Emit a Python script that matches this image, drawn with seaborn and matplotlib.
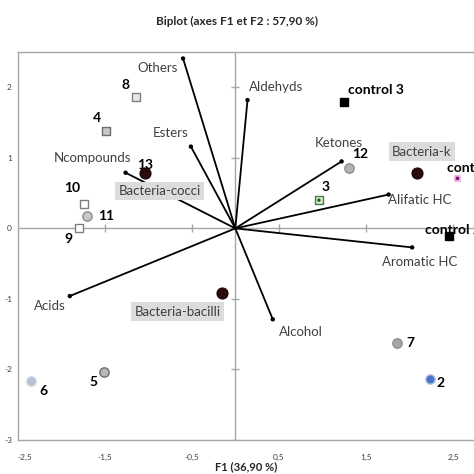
import matplotlib
matplotlib.use("Agg")
import matplotlib.pyplot as plt
import seaborn as sns
import pandas as pd
import numpy as np

# Observations
obs_labels = ["8", "4", "13", "10", "11", "9", "control 3", "12", "3",
              "Bk", "control 1", "control 2", "Bb", "7", "2", "5", "6"]
obs_x = [-1.14, -1.49, -1.04, -1.74, -1.70, -1.79, 1.25, 1.30, 0.96,
         2.09, 2.55, 2.45, -0.155, 1.86, 2.24, -1.51, -2.35]
obs_y = [1.86, 1.38, 0.79, 0.35, 0.17, 0.00, 1.79, 0.85, 0.40,
         0.78, 0.71, -0.11, -0.91, -1.63, -2.14, -2.04, -2.17]
obs_marker = ["s", "s", "o", "s", "o", "s", "s", "o", "s",
              "o", "s", "s", "o", "o", "o", "o", "o"]
obs_face = ["#e6e6e6", "#c8c8c8", "#2b0b0b", "#ffffff", "#c8c8c8", "#ffffff", "#000000", "#b4b4b4", "#d8ecd0",
            "#2b0b0b", "#e7a7e0", "#000000", "#2b0b0b", "#a6a6a6", "#4a74c8", "#b8b8b8", "#b9c0d6"]
obs_edge = ["#808080", "#6e6e6e", "#1a0505", "#808080", "#8c8c8c", "#808080", "#000000", "#8c8c8c", "#3f7f3f",
            "#1a0505", "#ffffff", "#000000", "#1a0505", "#8c8c8c", "#b0c0e0", "#6e6e6e", "#d0d4e4"]
obs_size = [30, 30, 60, 30, 45, 30, 30, 45, 30, 60, 30, 30, 60, 45, 45, 45, 45]

# Observation label texts and positions
lab_text = ["8", "4", "13", "10", "11", "9", "control 3", "12", "3",
            "control 1", "control 2", "7", "2", "5", "6"]
lab_x = [-1.26, -1.59, -1.04, -1.87, -1.48, -1.91, 1.29, 1.43, 1.03,
         2.43, 2.18, 2.01, 2.36, -1.63, -2.20]
lab_y = [2.04, 1.57, 0.90, 0.57, 0.18, -0.15, 1.97, 1.06, 0.58,
         0.86, -0.03, -1.63, -2.20, -2.18, -2.30]
lab_ha = ["center", "center", "center", "center", "center", "center", "left", "center", "center",
          "left", "left", "center", "center", "center", "center"]

# Variable vectors
var_names = ["Others", "Aldehyds", "Esters", "Ncompounds", "Ketones",
             "Alifatic HC", "Aromatic HC", "Acids", "Alcohol"]
var_x = [-0.60, 0.14, -0.51, -1.26, 1.22, 1.76, 2.03, -1.90, 0.43]
var_y = [2.41, 1.82, 1.16, 0.79, 0.95, 0.48, -0.27, -0.96, -1.29]
var_lx = [-0.89, 0.47, -0.74, -1.64, 1.19, 2.12, 2.12, -2.13, 0.75]
var_ly = [2.28, 2.00, 1.36, 1.00, 1.21, 0.40, -0.47, -1.10, -1.47]

# Supplementary (bacteria) labels with boxes
box_text = ["Bacteria-cocci", "Bacteria-k", "Bacteria-bacilli"]
box_x = [-0.87, 2.14, -0.66]
box_y = [0.53, 1.09, -1.18]

xtick_vals = [-2.5, -1.5, -0.5, 0.5, 1.5, 2.5]
xtick_labels = ["-2,5", "-1,5", "-0,5", "0,5", "1,5", "2,5"]
ytick_vals = [-3, -2, -1, 0, 1, 2]
ytick_labels = ["-3", "-2", "-1", "0", "1", "2"]

sns.set_style("white")
plt.rcParams["font.family"] = ["Lato", "DejaVu Sans"]

fig = plt.figure(figsize=(4.74, 4.74), dpi=100)
ax = fig.add_axes([0.037, 0.072, 0.963, 0.818])
ax.set_xlim(-2.5, 2.74)
ax.set_ylim(-3, 2.5)

# axis lines through origin
ax.axhline(0, color="#a6a6a6", lw=1.0, zorder=1)
ax.axvline(0, color="#a6a6a6", lw=1.0, zorder=1)
ax.plot(xtick_vals[1:], [0] * 5, linestyle="none", marker="|", ms=6, color="#a6a6a6", zorder=1)
ax.plot([0] * 6, ytick_vals, linestyle="none", marker="_", ms=6, color="#a6a6a6", zorder=1)

# vectors
for vx, vy in zip(var_x, var_y):
    ax.plot([0, vx], [0, vy], color="black", lw=1.3, zorder=2)
sns.scatterplot(x=var_x, y=var_y, ax=ax, color="black", s=10, edgecolor="none", zorder=3, legend=False)
for n, lx, ly in zip(var_names, var_lx, var_ly):
    ax.text(lx, ly, n, fontsize=9.5, color="#404040", ha="center", va="center", zorder=5)

# bacteria label boxes
for t, bx, by in zip(box_text, box_x, box_y):
    ax.text(bx, by, t, fontsize=9.5, color="#404040", ha="center", va="center", zorder=6,
            bbox=dict(boxstyle="square,pad=0.25", fc="#dcdcdc", ec="none"))

# observations
df = pd.DataFrame(dict(x=obs_x, y=obs_y, m=obs_marker, f=obs_face, e=obs_edge, s=obs_size))
for _, r in df.iterrows():
    sns.scatterplot(x=[r.x], y=[r.y], ax=ax, marker=r.m, s=r.s, color=r.f,
                    edgecolor=r.e, linewidth=1.0, zorder=4, legend=False)
# inner dots
inner_idx = [8, 10]
sns.scatterplot(x=[obs_x[i] for i in inner_idx], y=[obs_y[i] for i in inner_idx], ax=ax,
                s=6, edgecolor="none", zorder=5, legend=False,
                hue=[0, 1], palette=["#2f4f2f", "#7a1060"])

for t, lx, ly, ha in zip(lab_text, lab_x, lab_y, lab_ha):
    ax.text(lx, ly, t, fontsize=10, fontweight="bold", color="black", ha=ha, va="center", zorder=5)

ax.set_xticks(xtick_vals)
ax.set_xticklabels(xtick_labels, fontsize=6, color="#404040")
ax.get_xticklabels()[0].set_ha("left")
ax.set_yticks(ytick_vals)
ax.set_yticklabels(ytick_labels, fontsize=6, color="#404040")
ax.tick_params(axis="x", length=0, pad=10)
ax.tick_params(axis="y", length=0, pad=4)
for s in ["left", "top", "bottom"]:
    ax.spines[s].set_color("#a6a6a6")
    ax.spines[s].set_linewidth(1.0)
ax.spines["right"].set_visible(False)
ax.set_xlabel("F1 (36,90 %)", fontsize=8, fontweight="bold", labelpad=0)

fig.text(0.5, 0.955, "Biplot (axes F1 et F2 : 57,90 %)", fontsize=8.5, fontweight="bold",
         ha="center", va="center")

fig.savefig("out.png", dpi=100)
